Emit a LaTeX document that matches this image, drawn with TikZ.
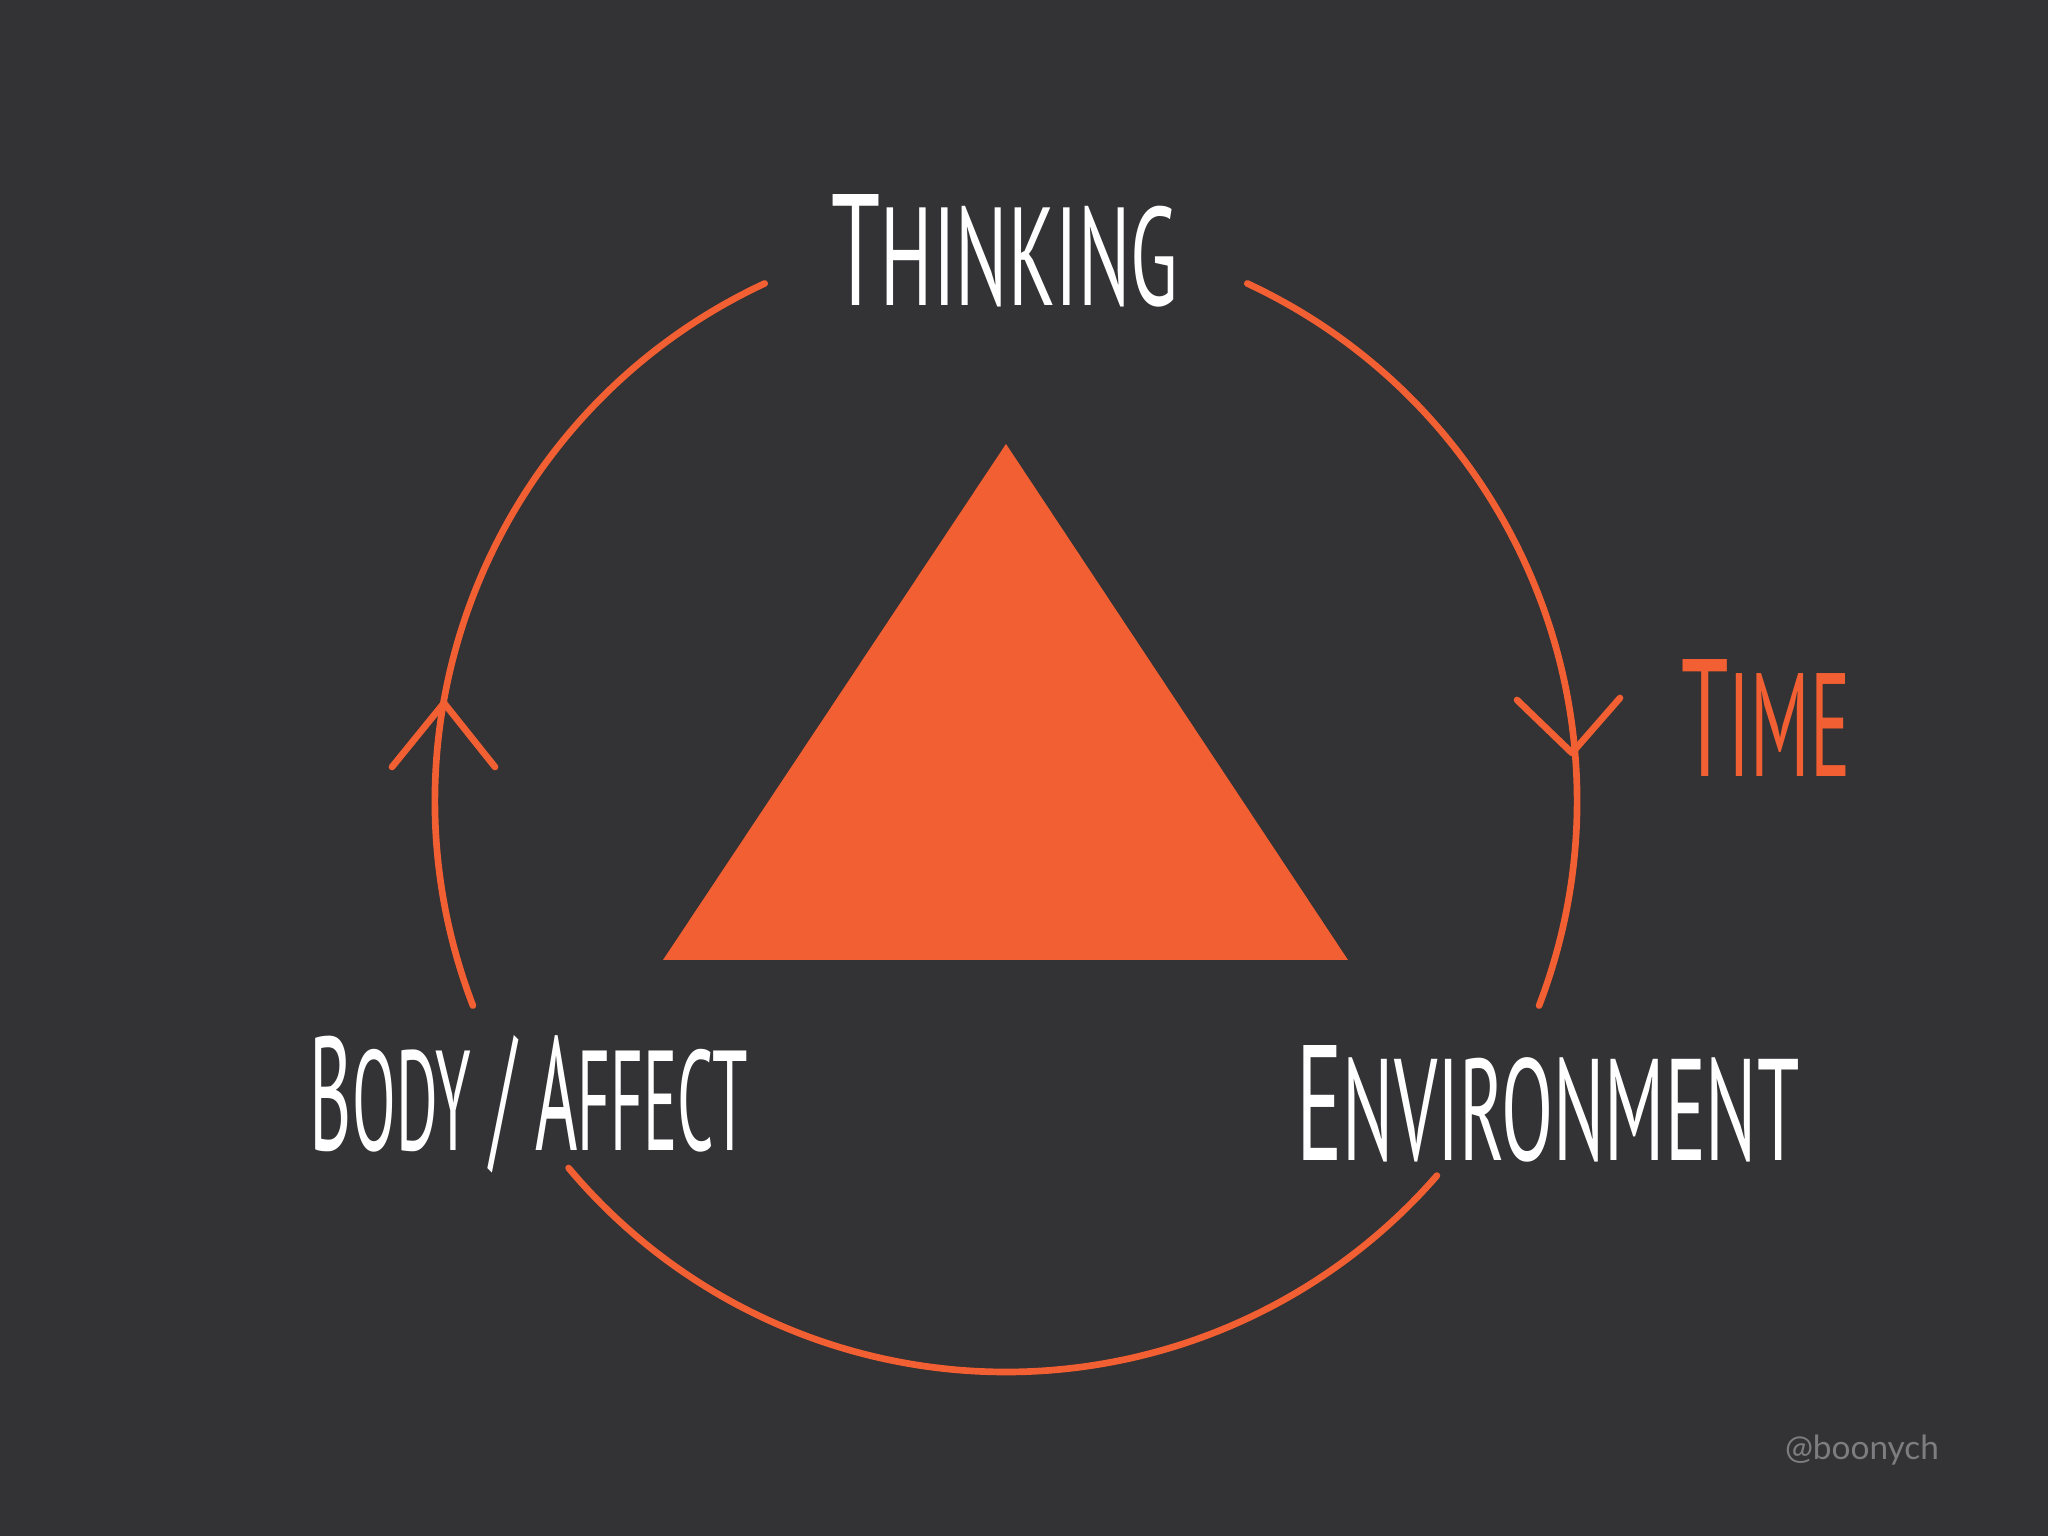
\documentclass[tikz,border=0pt]{standalone}
\usepackage{fontspec}
\setsansfont{PT Sans}
\newfontfamily\handlefont{Lato}
\usetikzlibrary{arrows.meta}

\definecolor{slate}{RGB}{51,50,52}
\definecolor{ember}{RGB}{241,95,50}
\definecolor{handle}{RGB}{125,124,128}

\newcommand{\smc}[1]{\scalebox{.88}{#1}}

\begin{document}
\begin{tikzpicture}[
    ring/.style={draw=ember, line width=1.9pt, line cap=round, line join=round},
    word/.style={text=white, font=\sffamily, inner sep=0pt}
]
% Background
\useasboundingbox (0,0) rectangle (20.48,15.36);
\fill[slate] (0,0) rectangle (20.48,15.36);

% Centre of the cycle
\coordinate (C) at (10.06,7.35);
\def\R{5.71}

% Triangle
\coordinate (apex) at (10.06,10.92);
\coordinate (bl) at (6.63,5.76);
\coordinate (br) at (13.48,5.76);
\fill[ember] (apex) -- (br) -- (bl) -- cycle;

% Labels
\node[word] (think) at (10.05,12.85) {\resizebox{3.46cm}{1.11cm}{T\smc{HINKING}}};
\node[word] (body) at (5.29,4.32) {\resizebox{4.38cm}{1.15cm}{B\smc{ODY} / A\smc{FFECT}}};
\node[word] (env) at (15.48,4.32) {\resizebox{5.03cm}{1.15cm}{E\smc{NVIRONMENT}}};
\node[word, text=ember] (time) at (17.66,8.18) {\resizebox{1.69cm}{1.17cm}{T\smc{IME}}};
\node[text=handle, font=\handlefont, inner sep=0pt] (tag) at (18.62,0.86) {\resizebox{1.54cm}{!}{@boonych}};

% Cycle arcs
\draw[ring] ([shift={(201:\R)}]C) arc[start angle=201, end angle=115, radius=\R];
\draw[ring] ([shift={(65:\R)}]C) arc[start angle=65, end angle=-21, radius=\R];
\draw[ring] ([shift={(220:\R)}]C) arc[start angle=220, end angle=319, radius=\R];

% Arrow heads
\coordinate (uptip) at (4.44,8.33);
\coordinate (upl) at (3.92,7.69);
\coordinate (upr) at (4.95,7.69);
\draw[ring] (upl) -- (uptip) -- (upr);
\coordinate (dntip) at (15.72,7.83);
\coordinate (dnl) at (15.17,8.36);
\coordinate (dnr) at (16.20,8.38);
\draw[ring] (dnl) -- (dntip) -- (dnr);
\end{tikzpicture}
\end{document}
